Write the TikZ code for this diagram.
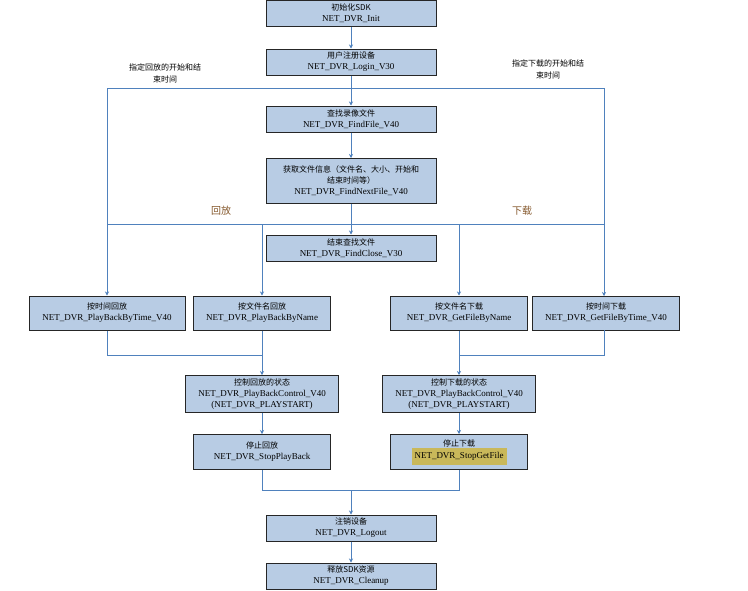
\documentclass[tikz,border=0pt]{standalone}
\usepackage{fontspec}
\setmainfont{Liberation Serif}
\newfontfamily\cjk{Noto Sans CJK SC}
\newcommand{\zh}[1]{{\cjk\fontsize{8}{10}\selectfont #1}}
\usetikzlibrary{arrows.meta}
\definecolor{bfill}{HTML}{B8CCE4}
\definecolor{lblue}{HTML}{4F81BD}
\definecolor{hl}{HTML}{C9B85A}
\begin{document}
\begin{tikzpicture}[x=1pt,y=-1pt,
  box/.style={draw=black!85,line width=1pt,fill=bfill,align=center,inner sep=0pt,font=\fontsize{9}{11}\selectfont},
  arr/.style={draw=lblue,line width=0.8pt,-{Stealth[length=4pt,width=4pt]}},
  ln/.style={draw=lblue,line width=0.8pt}]
\useasboundingbox[fill=white] (0,0) rectangle (748,590);
\node[box,minimum width=170pt,minimum height=26pt] (init) at (351,13) {\zh{初始化SDK}\\NET\_DVR\_Init};
\node[box,minimum width=170pt,minimum height=26pt] (login) at (351,62) {\zh{用户注册设备}\\NET\_DVR\_Login\_V30};
\node[box,minimum width=170pt,minimum height=26pt] (find) at (351,119) {\zh{查找录像文件}\\NET\_DVR\_FindFile\_V40};
\node[box,minimum width=170pt,minimum height=45pt] (next) at (351,181) {\zh{获取文件信息（文件名、大小、开始和}\\\zh{结束时间等）}\\NET\_DVR\_FindNextFile\_V40};
\node[box,minimum width=170pt,minimum height=26pt] (close) at (351,248) {\zh{结束查找文件}\\NET\_DVR\_FindClose\_V30};
\node[box,minimum width=156pt,minimum height=34pt] (A) at (107,313) {\zh{按时间回放}\\NET\_DVR\_PlayBackByTime\_V40};
\node[box,minimum width=137pt,minimum height=34pt] (B) at (262,313) {\zh{按文件名回放}\\NET\_DVR\_PlayBackByName};
\node[box,minimum width=137pt,minimum height=34pt] (C) at (459,313) {\zh{按文件名下载}\\NET\_DVR\_GetFileByName};
\node[box,minimum width=147pt,minimum height=34pt] (D) at (606,313) {\zh{按时间下载}\\NET\_DVR\_GetFileByTime\_V40};
\node[box,minimum width=153pt,minimum height=37pt] (cp) at (262,394) {\zh{控制回放的状态}\\NET\_DVR\_PlayBackControl\_V40\\(NET\_DVR\_PLAYSTART)};
\node[box,minimum width=153pt,minimum height=37pt] (cd) at (459,394) {\zh{控制下载的状态}\\NET\_DVR\_PlayBackControl\_V40\\(NET\_DVR\_PLAYSTART)};
\node[box,minimum width=137pt,minimum height=35pt] (sp) at (262,452) {\zh{停止回放}\\NET\_DVR\_StopPlayBack};
\node[box,minimum width=137pt,minimum height=35pt] (sd) at (459,452) {\zh{停止下载}\\\colorbox{hl}{\strut NET\_DVR\_StopGetFile}};
\node[box,minimum width=170pt,minimum height=26pt] (out) at (351,528) {\zh{注销设备}\\NET\_DVR\_Logout};
\node[box,minimum width=170pt,minimum height=26pt] (clean) at (351,576) {\zh{释放SDK资源}\\NET\_DVR\_Cleanup};
\node[align=center] (l1) at (165,73) {\zh{指定回放的开始和结}\\\zh{束时间}};
\node[align=center] (l2) at (548,69) {\zh{指定下载的开始和结}\\\zh{束时间}};
\node[text=brown!70!black] (pb) at (221,211) {\cjk\fontsize{10}{12}\selectfont 回放};
\node[text=brown!70!black] (dl) at (522,211) {\cjk\fontsize{10}{12}\selectfont 下载};
\coordinate (t) at (351,88);
\coordinate (m) at (351,224);
\draw[arr] (init) -- (login);
\draw[arr] (login) -- (find);
\draw[arr] (find) -- (next);
\draw[arr] (next) -- (close);
\draw[ln] (107,88) -- (604,88);
\draw[ln] (107,224) -- (604,224);
\draw[arr] (107,88) -- (A.north);
\draw[arr] (604,88) -- (604,296);
\draw[arr] (262,224) -- (B.north);
\draw[arr] (459,224) -- (C.north);
\draw[ln] (A.south) |- (262,355);
\draw[arr] (B.south) -- (cp.north);
\draw[ln] (604,330) |- (459,355);
\draw[arr] (C.south) -- (cd.north);
\draw[arr] (cp) -- (sp);
\draw[arr] (cd) -- (sd);
\draw[ln] (sp.south) |- (351,490);
\draw[ln] (sd.south) |- (351,490);
\draw[arr] (351,490) -- (out.north);
\draw[arr] (out) -- (clean);
\end{tikzpicture}
\end{document}
